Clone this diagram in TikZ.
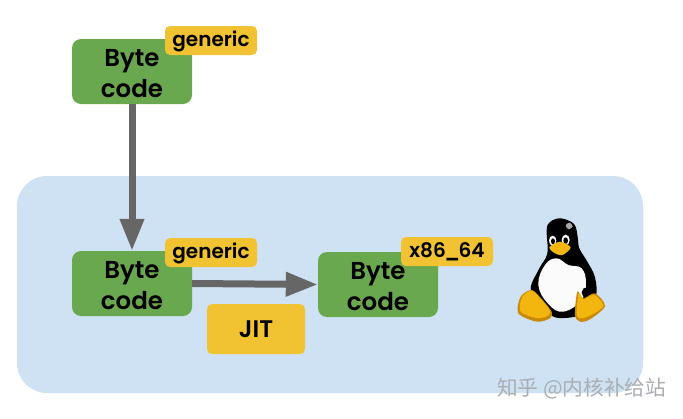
\documentclass[tikz,border=0pt]{standalone}
\usepackage{fontspec}
\setmainfont{Poppins}[BoldFont={Poppins SemiBold}]
\newfontfamily\cjk{Noto Sans CJK SC}
\usetikzlibrary{arrows.meta}
\definecolor{panel}{HTML}{CFE2F3}
\definecolor{leaf}{HTML}{6AA84F}
\definecolor{tag}{HTML}{F1C232}
\definecolor{conn}{HTML}{666666}
\definecolor{mark}{HTML}{A9AEB3}
\definecolor{fin}{HTML}{F2B60F}
\definecolor{fishadow}{HTML}{C98A0A}
\newcommand{\twolines}{\raisebox{0pt}[21pt][0pt]{Byte}\\code}
\tikzset{
  codebox/.style={draw=none,fill=leaf,rounded corners=9pt,minimum width=120pt,minimum height=65pt,inner sep=0pt,align=center,font=\fontsize{24.5}{31}\selectfont\bfseries,text=black},
  tagbox/.style={draw=none,fill=tag,rounded corners=5pt,minimum width=92pt,minimum height=29pt,inner sep=0pt,font=\fontsize{20}{22}\selectfont\bfseries,text=black},
  flow/.style={draw=conn,line width=7pt,-{Triangle[length=32pt,width=23pt]},shorten >=0pt}
}
\begin{document}
\begin{tikzpicture}[x=1pt,y=-1pt]
\useasboundingbox (0,0) rectangle (683,418);
\fill[white] (0,0) rectangle (683,418);
\node[draw=none,fill=panel,rounded corners=30pt,minimum width=626pt,minimum height=217pt,inner sep=0pt] (panelbox) at (330,284.5) {};
\node[codebox] (b1) at (132,71.5) {\twolines};
\node[codebox] (b2) at (132,283.5) {\twolines};
\node[codebox] (b3) at (378,284.5) {\twolines};
\node[tagbox,text height=12pt,text depth=0pt] (g1) at (211,40.5) {generic};
\node[tagbox,text height=12pt,text depth=0pt] (g2) at (211,252.5) {generic};
\node[tagbox] (g3) at (447,251.5) {x86\kern-1.5pt\_\kern-1.5pt64};
\node[tagbox,minimum width=98pt,minimum height=50pt,font=\fontsize{24}{26}\selectfont\bfseries] (jit) at (256,329) {JIT};
\draw[flow] (b1.south) -- (b2.north);
\draw[flow] (b2.east) -- (b3.west);
% Tux
\begin{scope}[shift={(500,200)},x=0.3333pt,y=-0.3333pt]
\fill[black] plot[smooth cycle,tension=0.6] coordinates {(182,55) (222,72) (233,110) (238,145) (262,185) (285,232) (287,290) (250,330) (225,350) (160,350) (120,300) (92,265) (118,205) (142,160) (140,90) (150,66)};
\fill[white!97!gray] plot[smooth cycle,tension=0.7] coordinates {(170,175) (205,195) (245,205) (258,250) (245,300) (190,335) (145,312) (115,255) (135,195)};
\fill[gray!70] plot[smooth cycle] coordinates {(197,75) (210,68) (218,80) (205,88)};
\fill[white] (158,122) ellipse [x radius=11,y radius=15];
\fill[white] (197,120) ellipse [x radius=12,y radius=16];
\fill[black] (159,124) ellipse [x radius=6,y radius=9];
\fill[black] (197,122) ellipse [x radius=7,y radius=10];
\fill[black] (262,278) circle [radius=17];
\fill[fin] plot[smooth cycle,tension=0.5] coordinates {(148,142) (180,125) (212,142) (188,165) (165,160)};
\fill[fishadow] plot[smooth cycle,tension=0.5] coordinates {(95,270) (125,297) (155,335) (150,355) (110,365) (55,340) (62,290)};
\fill[fin] plot[smooth cycle,tension=0.5] coordinates {(95,272) (122,297) (150,332) (142,348) (110,354) (62,335) (66,292)};
\fill[fishadow] plot[smooth cycle,tension=0.5] coordinates {(232,275) (250,295) (285,280) (315,318) (270,358) (240,365) (225,345)};
\fill[fin] plot[smooth cycle,tension=0.5] coordinates {(236,280) (250,298) (283,285) (310,318) (268,348) (240,355) (230,340)};
\end{scope}
\node[anchor=west,inner sep=0pt,text=mark,font=\cjk\fontsize{20.7}{22}\selectfont] (wm) at (497,389) {知乎 @内核补给站};
\end{tikzpicture}
\end{document}
